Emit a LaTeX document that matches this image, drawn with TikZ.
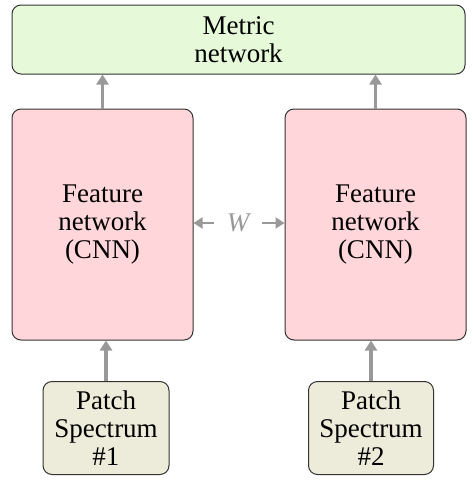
\documentclass[tikz,border=0pt]{standalone}
\usepackage{fontspec}
\setmainfont{Liberation Serif}
\usetikzlibrary{arrows.meta}
\definecolor{metricfill}{HTML}{E6F9D9}
\definecolor{featfill}{HTML}{FFD6D9}
\definecolor{patchfill}{HTML}{EDEBD9}
\definecolor{bordc}{HTML}{333333}
\definecolor{arrc}{HTML}{999999}
\tikzset{
  box/.style={draw=bordc, line width=1pt, rounded corners=9pt, align=center,
    font=\fontsize{27}{28}\selectfont, inner sep=0pt},
  flow/.style={draw=arrc, line width=3.5pt, -{Triangle[width=12pt,length=10pt]}},
  share/.style={draw=arrc, line width=2pt, -{Triangle[width=11pt,length=9pt]}},
}
\begin{document}
\begin{tikzpicture}[x=1pt,y=-1pt]
\useasboundingbox (0,0) rectangle (472,480);
\node[box, fill=metricfill, minimum width=453pt, minimum height=69pt] (m) at (238.5,39.5) {Metric\\network};
\node[box, fill=featfill, minimum width=181pt, minimum height=231pt] (fl) at (102.5,224.5) {Feature\\network\\(CNN)};
\node[box, fill=featfill, minimum width=181pt, minimum height=231pt] (fr) at (375.5,224.5) {Feature\\network\\(CNN)};
\node[box, fill=patchfill, minimum width=126pt, minimum height=93pt] (pl) at (106,428) {Patch\\Spectrum\\\#1};
\node[box, fill=patchfill, minimum width=125pt, minimum height=93pt] (pr) at (371,428) {Patch\\Spectrum\\\#2};
\node[text=arrc, font=\fontsize{27}{28}\selectfont\itshape, inner xsep=13pt] (w) at (238,223) {W};
\draw[flow] (pl.north) -- (pl.north |- fl.south);
\draw[flow] (pr.north) -- (pr.north |- fr.south);
\draw[flow] (fl.north) -- (fl.north |- m.south);
\draw[flow] (fr.north) -- (fr.north |- m.south);
\draw[share] (w.west) -- (fl.east |- w.west);
\draw[share] (w.east) -- (fr.west |- w.east);
\end{tikzpicture}
\end{document}
